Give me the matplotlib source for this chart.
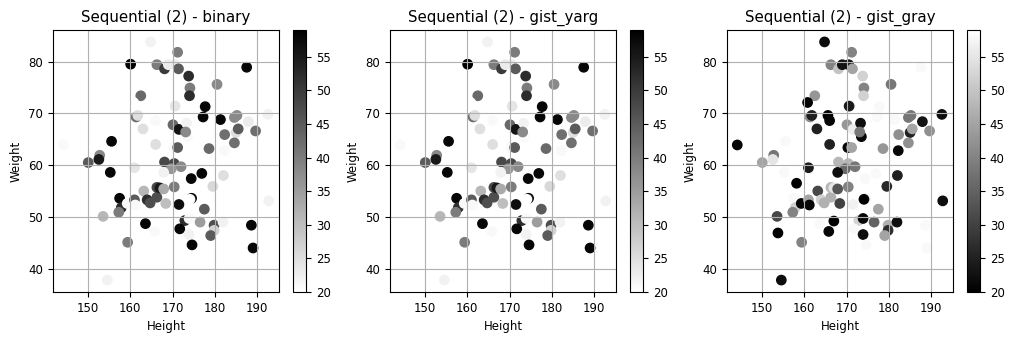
import numpy as np
import matplotlib
matplotlib.use("Agg")
import matplotlib.pyplot as plt

# data (height, weight, age)
height = [164.8, 171.2, 160.1, 166.3, 168.1, 169.0, 170.5, 171.4, 173.8, 174.1,
          174.0, 162.5, 170.6, 177.7, 180.5, 187.5, 192.5, 161.4, 161.8, 160.8,
          165.6, 166.0, 163.0, 166.0, 155.6, 144.2, 152.8, 152.6, 150.1, 170.1,
          171.5, 173.3, 173.5, 173.1, 170.3, 171.2, 177.2, 181.3, 184.6, 185.2,
          185.0, 185.5, 182.3, 184.6, 178.6, 182.2, 187.9, 189.6, 155.3, 161.0,
          168.1, 170.4, 172.0, 169.7, 167.9, 174.4, 176.9, 182.0, 158.2, 157.5,
          157.9, 157.3, 159.3, 161.0, 161.2, 163.2, 164.0, 164.7, 166.3, 166.3,
          167.0, 167.9, 168.4, 170.4, 171.5, 174.5, 174.1, 177.5, 179.5, 192.7,
          153.6, 153.8, 163.6, 165.8, 159.4, 167.0, 172.9, 173.9, 171.7, 173.9,
          174.6, 176.5, 179.8, 179.8, 179.0, 181.9, 188.6, 189.0, 154.6]
weight = [83.8, 81.8, 79.5, 79.4, 78.6, 79.4, 79.4, 78.6, 77.2, 74.9,
          73.4, 73.4, 71.4, 71.3, 75.6, 78.9, 69.8, 69.3, 69.6, 72.1,
          69.6, 68.6, 67.0, 64.0, 64.6, 63.9, 61.9, 61.1, 60.5, 67.8,
          66.9, 68.1, 65.5, 66.4, 63.4, 63.4, 69.3, 68.8, 69.2, 69.6,
          66.3, 67.0, 65.9, 64.3, 63.2, 62.8, 68.4, 66.6, 58.6, 59.5,
          60.6, 60.3, 59.7, 59.3, 58.6, 57.4, 58.4, 58.0, 56.5, 53.6,
          51.8, 50.9, 52.6, 53.3, 52.3, 55.0, 53.3, 52.7, 53.8, 55.7,
          55.6, 55.4, 52.6, 55.8, 52.4, 53.6, 53.4, 51.5, 55.9, 53.1,
          50.1, 46.9, 48.7, 47.2, 45.1, 49.2, 49.3, 49.7, 47.7, 46.6,
          44.6, 49.0, 48.4, 47.4, 46.4, 49.0, 48.4, 44.0, 37.8]
age = [22, 40, 59, 40, 50, 23, 23, 45, 52, 40,
       52, 43, 24, 58, 38, 58, 22, 42, 25, 20,
       20, 21, 25, 25, 58, 21, 38, 55, 45, 43,
       56, 22, 21, 38, 21, 45, 58, 58, 38, 38,
       25, 45, 42, 42, 43, 21, 23, 42, 58, 24,
       48, 48, 38, 36, 22, 58, 58, 25, 20, 58,
       52, 40, 21, 45, 21, 31, 52, 47, 47, 48,
       55, 33, 30, 40, 57, 57, 20, 45, 26, 22,
       31, 20, 58, 21, 40, 20, 52, 21, 58, 22,
       58, 35, 47, 27, 45, 22, 58, 58, 22]

cmaps = ["binary", "gist_yarg", "gist_gray"]

plt.rcParams["font.size"] = 8.5

fig = plt.figure(figsize=(10.24, 3.41), dpi=100)
W, H = 1024, 341

for i, cm in enumerate(cmaps):
    x0 = 53 + i * 337
    ax = fig.add_axes([x0 / W, (H - 292) / H, 226 / W, 262 / H])
    cax = fig.add_axes([(x0 + 240) / W, (H - 292) / H, 13 / W, 262 / H])
    sc = ax.scatter(height, weight, c=age, cmap=cm, s=45)
    ax.set_title("Sequential (2) - " + cm, fontsize=10.8)
    ax.set_xlabel("Height")
    ax.set_ylabel("Weight")
    ax.grid(True)
    fig.colorbar(sc, cax=cax)

fig.savefig("out.png", dpi=100)
